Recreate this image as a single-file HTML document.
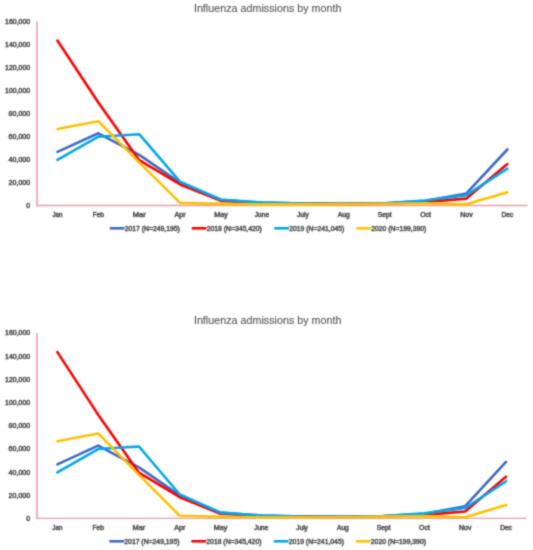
<!DOCTYPE html>
<html><head><meta charset="utf-8"><style>
html,body{margin:0;padding:0;background:#fff;width:533px;height:550px;overflow:hidden}
svg{display:block}
text{font-family:"Liberation Sans", Arial, sans-serif;stroke:#595959;stroke-width:0.55px}
.t{filter:url(#bl)}
</style></head><body>
<svg width="533" height="550" viewBox="0 0 533 550">
<defs><filter id="bl" x="0" y="0" width="533" height="550" filterUnits="userSpaceOnUse" color-interpolation-filters="sRGB"><feConvolveMatrix order="3" kernelMatrix="81 288 81 288 1024 288 81 288 81" divisor="2500" targetX="1" targetY="1" edgeMode="duplicate" preserveAlpha="true"/></filter></defs>
<g filter="url(#bl)">
<rect width="533" height="550" fill="#fff"/>
<text x="193.9" y="11.70" font-size="10.4" fill="#595959" style="stroke-width:0.12px" textLength="147.6" lengthAdjust="spacingAndGlyphs">Influenza admissions by month</text>
<text x="30.2" y="208.05" font-size="6.7" fill="#595959" text-anchor="end" textLength="3.85" lengthAdjust="spacingAndGlyphs">0</text>
<text x="30.2" y="185.05" font-size="6.7" fill="#595959" text-anchor="end" textLength="21.58" lengthAdjust="spacingAndGlyphs">20,000</text>
<text x="30.2" y="162.05" font-size="6.7" fill="#595959" text-anchor="end" textLength="21.58" lengthAdjust="spacingAndGlyphs">40,000</text>
<text x="30.2" y="139.05" font-size="6.7" fill="#595959" text-anchor="end" textLength="21.58" lengthAdjust="spacingAndGlyphs">60,000</text>
<text x="30.2" y="116.05" font-size="6.7" fill="#595959" text-anchor="end" textLength="21.58" lengthAdjust="spacingAndGlyphs">80,000</text>
<text x="30.2" y="93.05" font-size="6.7" fill="#595959" text-anchor="end" textLength="25.18" lengthAdjust="spacingAndGlyphs">100,000</text>
<text x="30.2" y="70.05" font-size="6.7" fill="#595959" text-anchor="end" textLength="25.18" lengthAdjust="spacingAndGlyphs">120,000</text>
<text x="30.2" y="47.05" font-size="6.7" fill="#595959" text-anchor="end" textLength="25.18" lengthAdjust="spacingAndGlyphs">140,000</text>
<text x="30.2" y="24.05" font-size="6.7" fill="#595959" text-anchor="end" textLength="25.18" lengthAdjust="spacingAndGlyphs">160,000</text>
<path d="M37.00 21.50 V206.30" fill="none" stroke="#F2B1B7" stroke-width="2"/>
<path d="M36.00 205.50 H527.80" fill="none" stroke="#F09CAC" stroke-width="1.3"/>
<text x="57.45" y="216.80" font-size="6.7" fill="#595959" text-anchor="middle" textLength="10.05" lengthAdjust="spacingAndGlyphs">Jan</text>
<text x="98.35" y="216.80" font-size="6.7" fill="#595959" text-anchor="middle" textLength="11.26" lengthAdjust="spacingAndGlyphs">Feb</text>
<text x="139.25" y="216.80" font-size="6.7" fill="#595959" text-anchor="middle" textLength="12.79" lengthAdjust="spacingAndGlyphs">Mar</text>
<text x="180.15" y="216.80" font-size="6.7" fill="#595959" text-anchor="middle" textLength="11.04" lengthAdjust="spacingAndGlyphs">Apr</text>
<text x="221.05" y="216.80" font-size="6.7" fill="#595959" text-anchor="middle" textLength="13.58" lengthAdjust="spacingAndGlyphs">May</text>
<text x="261.95" y="216.80" font-size="6.7" fill="#595959" text-anchor="middle" textLength="14.19" lengthAdjust="spacingAndGlyphs">June</text>
<text x="302.85" y="216.80" font-size="6.7" fill="#595959" text-anchor="middle" textLength="11.60" lengthAdjust="spacingAndGlyphs">July</text>
<text x="343.75" y="216.80" font-size="6.7" fill="#595959" text-anchor="middle" textLength="11.97" lengthAdjust="spacingAndGlyphs">Aug</text>
<text x="384.65" y="216.80" font-size="6.7" fill="#595959" text-anchor="middle" textLength="13.81" lengthAdjust="spacingAndGlyphs">Sept</text>
<text x="425.55" y="216.80" font-size="6.7" fill="#595959" text-anchor="middle" textLength="10.79" lengthAdjust="spacingAndGlyphs">Oct</text>
<text x="466.45" y="216.80" font-size="6.7" fill="#595959" text-anchor="middle" textLength="12.35" lengthAdjust="spacingAndGlyphs">Nov</text>
<text x="507.35" y="216.80" font-size="6.7" fill="#595959" text-anchor="middle" textLength="11.67" lengthAdjust="spacingAndGlyphs">Dec</text>
<polyline points="57.45,151.91 98.35,133.28 139.25,154.90 180.15,182.73 221.05,199.75 261.95,202.62 302.85,203.66 343.75,203.89 384.65,203.20 425.55,200.90 466.45,193.43 507.35,149.50" fill="none" stroke="#3E6AC6" stroke-width="2.6" stroke-linejoin="round" stroke-linecap="round"/>
<polyline points="57.45,40.59 98.35,102.58 139.25,160.19 180.15,184.45 221.05,200.90 261.95,203.20 302.85,203.78 343.75,204.12 384.65,203.66 425.55,202.05 466.45,198.60 507.35,164.10" fill="none" stroke="#FF0000" stroke-width="2.6" stroke-linejoin="round" stroke-linecap="round"/>
<polyline points="57.45,159.96 98.35,136.73 139.25,134.20 180.15,181.81 221.05,199.75 261.95,202.62 302.85,203.66 343.75,204.00 384.65,203.20 425.55,200.56 466.45,195.15 507.35,168.70" fill="none" stroke="#00A8EE" stroke-width="2.6" stroke-linejoin="round" stroke-linecap="round"/>
<polyline points="57.45,128.91 98.35,121.21 139.25,162.38 180.15,202.85 221.05,203.89 261.95,204.35 302.85,204.35 343.75,204.35 384.65,203.78 425.55,203.20 466.45,204.35 507.35,192.28" fill="none" stroke="#FFC000" stroke-width="2.6" stroke-linejoin="round" stroke-linecap="round"/>
<line x1="109.80" y1="228.30" x2="124.40" y2="228.30" stroke="#3E6AC6" stroke-width="2.6"/>
<text x="124.70" y="230.80" font-size="6.7" fill="#595959" textLength="55.2" lengthAdjust="spacingAndGlyphs">2017 (N=249,195)</text>
<line x1="191.80" y1="228.30" x2="206.40" y2="228.30" stroke="#FF0000" stroke-width="2.6"/>
<text x="206.70" y="230.80" font-size="6.7" fill="#595959" textLength="55.2" lengthAdjust="spacingAndGlyphs">2018 (N=345,420)</text>
<line x1="274.30" y1="228.30" x2="288.90" y2="228.30" stroke="#00A8EE" stroke-width="2.6"/>
<text x="289.20" y="230.80" font-size="6.7" fill="#595959" textLength="55.2" lengthAdjust="spacingAndGlyphs">2019 (N=241,045)</text>
<line x1="356.30" y1="228.30" x2="370.90" y2="228.30" stroke="#FFC000" stroke-width="2.6"/>
<text x="371.20" y="230.80" font-size="6.7" fill="#595959" textLength="55.2" lengthAdjust="spacingAndGlyphs">2020 (N=199,390)</text>
<text x="193.9" y="324.30" font-size="10.4" fill="#595959" style="stroke-width:0.12px" textLength="147.6" lengthAdjust="spacingAndGlyphs">Influenza admissions by month</text>
<text x="30.2" y="520.95" font-size="6.7" fill="#595959" text-anchor="end" textLength="3.85" lengthAdjust="spacingAndGlyphs">0</text>
<text x="30.2" y="497.76" font-size="6.7" fill="#595959" text-anchor="end" textLength="21.58" lengthAdjust="spacingAndGlyphs">20,000</text>
<text x="30.2" y="474.58" font-size="6.7" fill="#595959" text-anchor="end" textLength="21.58" lengthAdjust="spacingAndGlyphs">40,000</text>
<text x="30.2" y="451.39" font-size="6.7" fill="#595959" text-anchor="end" textLength="21.58" lengthAdjust="spacingAndGlyphs">60,000</text>
<text x="30.2" y="428.20" font-size="6.7" fill="#595959" text-anchor="end" textLength="21.58" lengthAdjust="spacingAndGlyphs">80,000</text>
<text x="30.2" y="405.01" font-size="6.7" fill="#595959" text-anchor="end" textLength="25.18" lengthAdjust="spacingAndGlyphs">100,000</text>
<text x="30.2" y="381.83" font-size="6.7" fill="#595959" text-anchor="end" textLength="25.18" lengthAdjust="spacingAndGlyphs">120,000</text>
<text x="30.2" y="358.64" font-size="6.7" fill="#595959" text-anchor="end" textLength="25.18" lengthAdjust="spacingAndGlyphs">140,000</text>
<text x="30.2" y="335.45" font-size="6.7" fill="#595959" text-anchor="end" textLength="25.18" lengthAdjust="spacingAndGlyphs">160,000</text>
<path d="M37.00 332.90 V519.20" fill="none" stroke="#F2B1B7" stroke-width="2"/>
<path d="M36.00 518.40 H526.40" fill="none" stroke="#F09CAC" stroke-width="1.3"/>
<text x="57.39" y="529.90" font-size="6.7" fill="#595959" text-anchor="middle" textLength="10.05" lengthAdjust="spacingAndGlyphs">Jan</text>
<text x="98.17" y="529.90" font-size="6.7" fill="#595959" text-anchor="middle" textLength="11.26" lengthAdjust="spacingAndGlyphs">Feb</text>
<text x="138.96" y="529.90" font-size="6.7" fill="#595959" text-anchor="middle" textLength="12.79" lengthAdjust="spacingAndGlyphs">Mar</text>
<text x="179.74" y="529.90" font-size="6.7" fill="#595959" text-anchor="middle" textLength="11.04" lengthAdjust="spacingAndGlyphs">Apr</text>
<text x="220.52" y="529.90" font-size="6.7" fill="#595959" text-anchor="middle" textLength="13.58" lengthAdjust="spacingAndGlyphs">May</text>
<text x="261.31" y="529.90" font-size="6.7" fill="#595959" text-anchor="middle" textLength="14.19" lengthAdjust="spacingAndGlyphs">June</text>
<text x="302.09" y="529.90" font-size="6.7" fill="#595959" text-anchor="middle" textLength="11.60" lengthAdjust="spacingAndGlyphs">July</text>
<text x="342.88" y="529.90" font-size="6.7" fill="#595959" text-anchor="middle" textLength="11.97" lengthAdjust="spacingAndGlyphs">Aug</text>
<text x="383.66" y="529.90" font-size="6.7" fill="#595959" text-anchor="middle" textLength="13.81" lengthAdjust="spacingAndGlyphs">Sept</text>
<text x="424.44" y="529.90" font-size="6.7" fill="#595959" text-anchor="middle" textLength="10.79" lengthAdjust="spacingAndGlyphs">Oct</text>
<text x="465.22" y="529.90" font-size="6.7" fill="#595959" text-anchor="middle" textLength="12.35" lengthAdjust="spacingAndGlyphs">Nov</text>
<text x="506.01" y="529.90" font-size="6.7" fill="#595959" text-anchor="middle" textLength="11.67" lengthAdjust="spacingAndGlyphs">Dec</text>
<polyline points="57.39,464.37 98.17,445.59 138.96,467.39 179.74,495.44 220.52,512.60 261.31,515.50 302.09,516.55 342.88,516.78 383.66,516.08 424.44,513.76 465.22,506.23 506.01,461.94" fill="none" stroke="#3E6AC6" stroke-width="2.6" stroke-linejoin="round" stroke-linecap="round"/>
<polyline points="57.39,352.15 98.17,414.64 138.96,472.72 179.74,497.18 220.52,513.76 261.31,516.08 302.09,516.66 342.88,517.01 383.66,516.55 424.44,514.92 465.22,511.44 506.01,476.66" fill="none" stroke="#FF0000" stroke-width="2.6" stroke-linejoin="round" stroke-linecap="round"/>
<polyline points="57.39,472.49 98.17,449.07 138.96,446.52 179.74,494.52 220.52,512.60 261.31,515.50 302.09,516.55 342.88,516.89 383.66,516.08 424.44,513.41 465.22,507.97 506.01,481.30" fill="none" stroke="#00A8EE" stroke-width="2.6" stroke-linejoin="round" stroke-linecap="round"/>
<polyline points="57.39,441.19 98.17,433.42 138.96,474.92 179.74,515.73 220.52,516.78 261.31,517.24 302.09,517.24 342.88,517.24 383.66,516.66 424.44,516.08 465.22,517.24 506.01,505.07" fill="none" stroke="#FFC000" stroke-width="2.6" stroke-linejoin="round" stroke-linecap="round"/>
<line x1="109.40" y1="541.30" x2="124.00" y2="541.30" stroke="#3E6AC6" stroke-width="2.6"/>
<text x="124.30" y="543.80" font-size="6.7" fill="#595959" textLength="55.2" lengthAdjust="spacingAndGlyphs">2017 (N=249,195)</text>
<line x1="191.40" y1="541.30" x2="206.00" y2="541.30" stroke="#FF0000" stroke-width="2.6"/>
<text x="206.30" y="543.80" font-size="6.7" fill="#595959" textLength="55.2" lengthAdjust="spacingAndGlyphs">2018 (N=345,420)</text>
<line x1="273.90" y1="541.30" x2="288.50" y2="541.30" stroke="#00A8EE" stroke-width="2.6"/>
<text x="288.80" y="543.80" font-size="6.7" fill="#595959" textLength="55.2" lengthAdjust="spacingAndGlyphs">2019 (N=241,045)</text>
<line x1="355.90" y1="541.30" x2="370.50" y2="541.30" stroke="#FFC000" stroke-width="2.6"/>
<text x="370.80" y="543.80" font-size="6.7" fill="#595959" textLength="55.2" lengthAdjust="spacingAndGlyphs">2020 (N=199,390)</text>
</g>
</svg>
</body></html>
